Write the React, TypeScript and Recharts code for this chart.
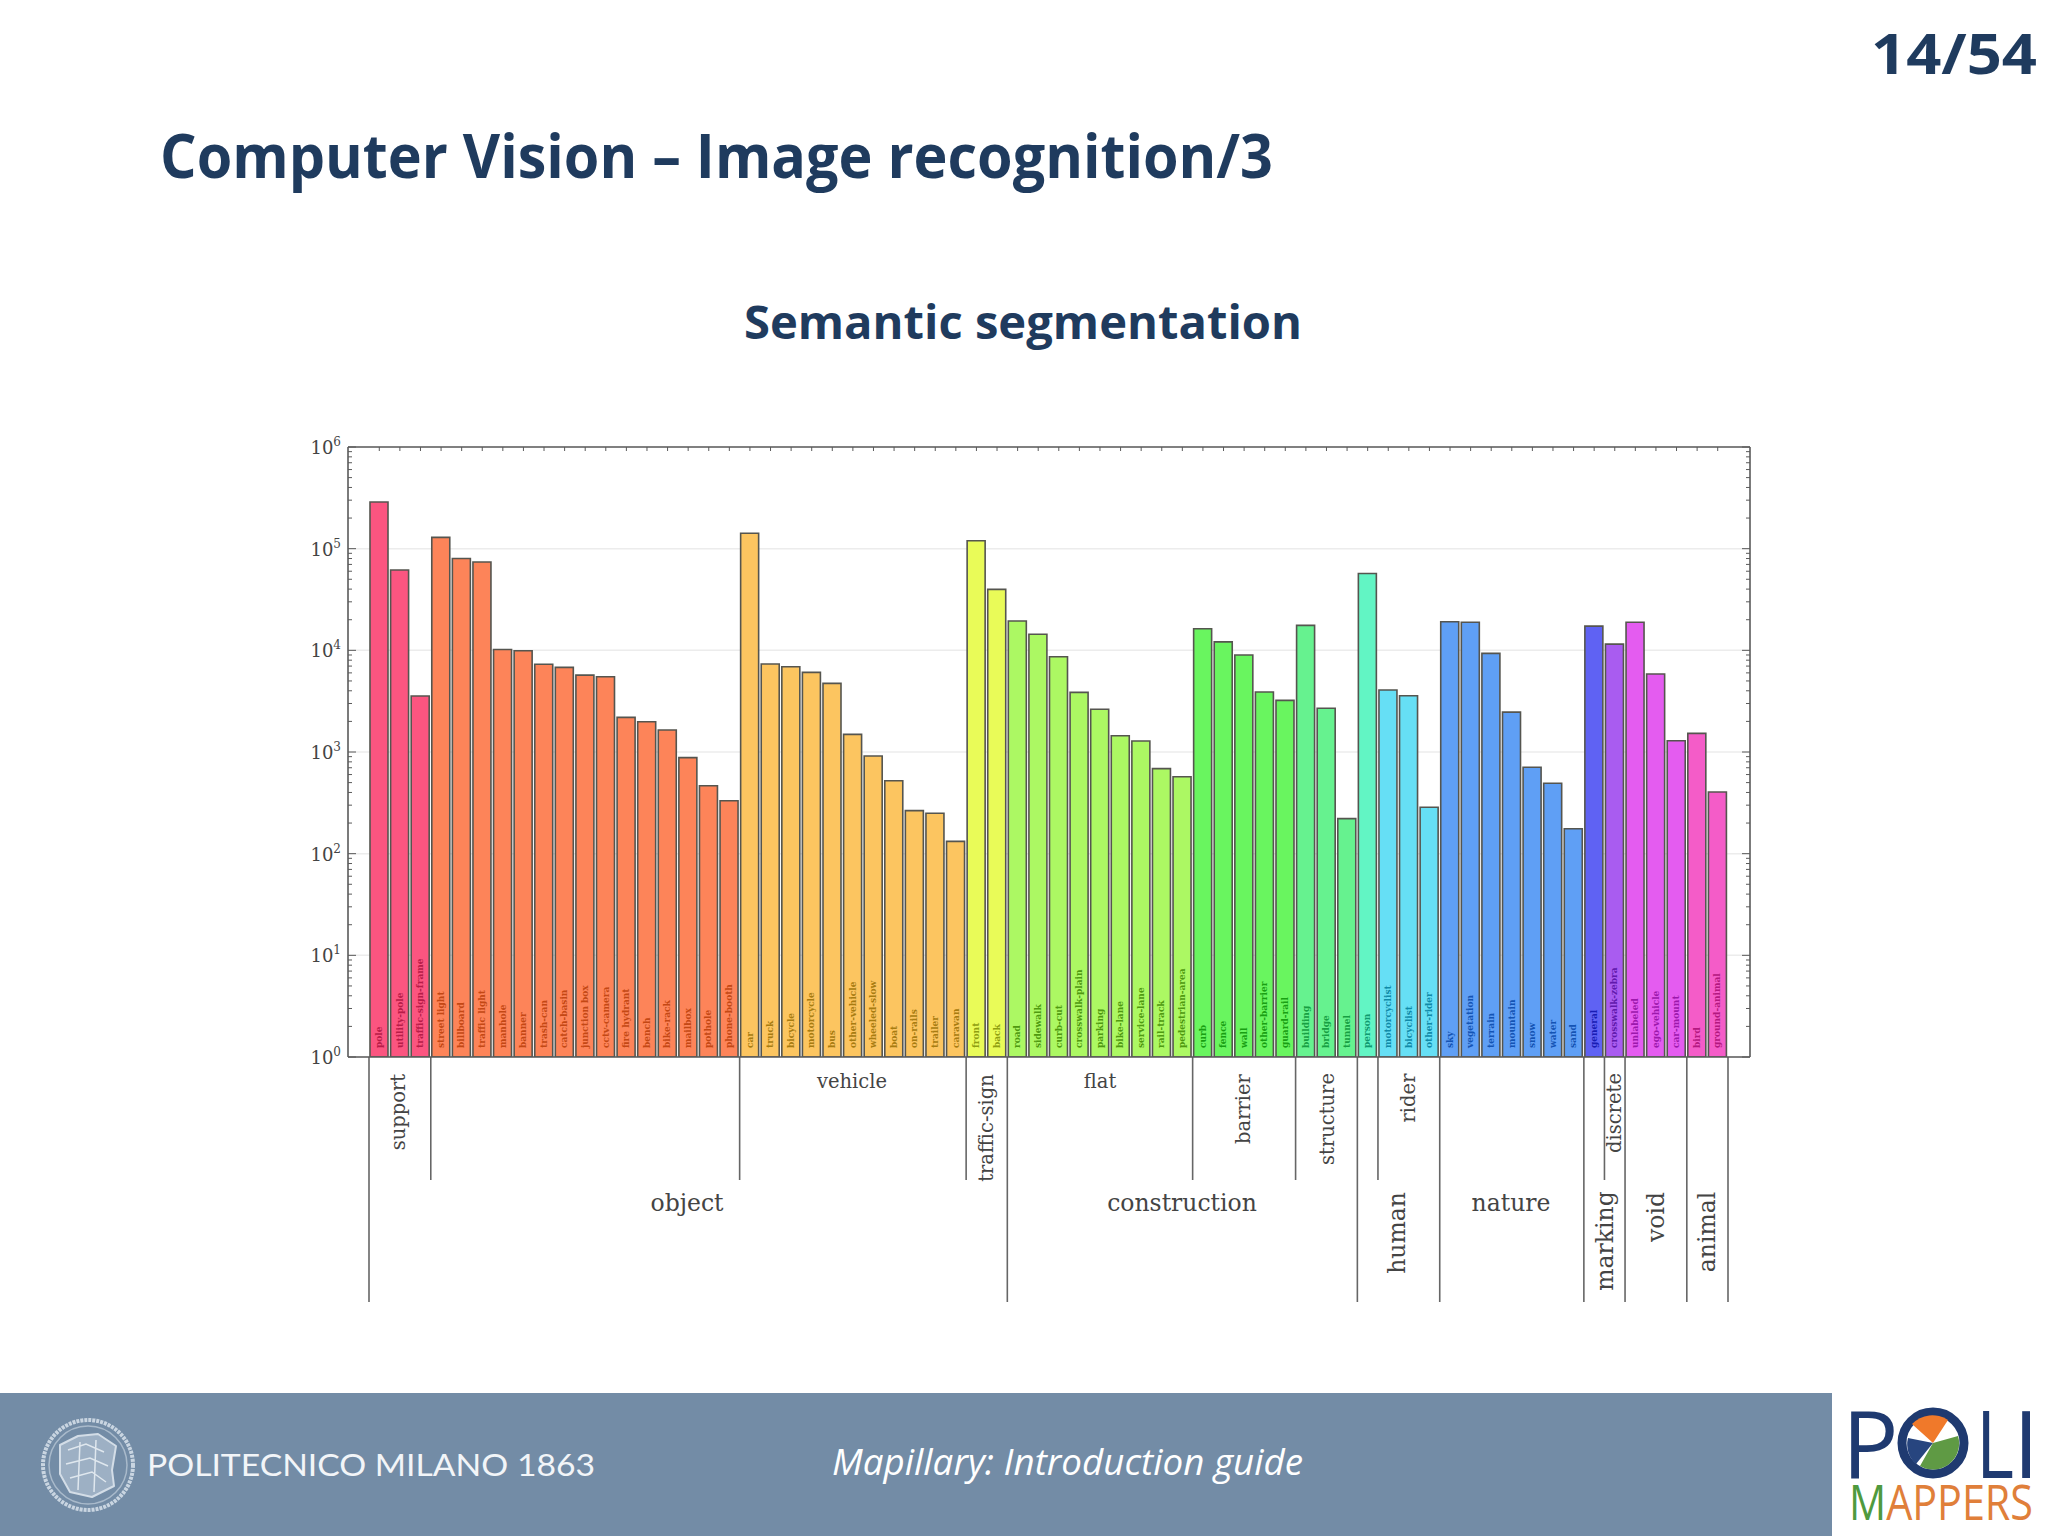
import { Bar, BarChart, CartesianGrid, Cell, LabelList, ReferenceLine, XAxis, YAxis } from "recharts";

const categories = [
  "pole", "utility-pole", "traffic-sign-frame",
  "street light", "billboard", "traffic light", "manhole", "banner", "trash-can", "catch-basin", "junction box",
  "cctv-camera", "fire hydrant", "bench", "bike-rack", "mailbox", "pothole", "phone-booth",
  "car", "truck", "bicycle", "motorcycle", "bus", "other-vehicle", "wheeled-slow", "boat", "on-rails", "trailer", "caravan",
  "front", "back",
  "road", "sidewalk", "curb-cut", "crosswalk-plain", "parking", "bike-lane", "service-lane", "rail-track", "pedestrian-area",
  "curb", "fence", "wall", "other-barrier", "guard-rail",
  "building", "bridge", "tunnel",
  "person",
  "motorcyclist", "bicyclist", "other-rider",
  "sky", "vegetation", "terrain", "mountain", "snow", "water", "sand",
  "general",
  "crosswalk-zebra",
  "unlabeled", "ego-vehicle", "car-mount",
  "bird", "ground-animal",
];

const counts = [
  288000, 61700, 3550,
  129000, 80000, 74000, 10200, 9900, 7300, 6800, 5700, 5500, 2190, 1985, 1645, 880, 466, 332,
  141600, 7340, 6900, 6070, 4730, 1490, 913, 522, 265, 250, 132,
  119700, 39800,
  19400, 14400, 8650, 3860, 2630, 1445, 1282, 686, 571,
  16300, 12100, 9000, 3890, 3220,
  17600, 2690, 221,
  57000,
  4070, 3580, 286,
  19100, 18900, 9330, 2470, 707, 492, 176,
  17300,
  11500,
  18900, 5850, 1292,
  1525, 404,
];

// bars per colour run, same order as categories
const runLengths = [3, 15, 11, 2, 9, 5, 3, 1, 3, 7, 1, 1, 3, 2];
const runFills = ["#fb5580", "#fd8459", "#fcc560", "#e9fb58", "#acf863", "#69f55f", "#66f28f", "#62f5c4", "#66dff5", "#5f9ff5", "#5f62f3", "#a95cf0", "#e45cf0", "#f45cc8"];
const runInk = ["#b81c48", "#c44814", "#a87c10", "#909f10", "#4f9a10", "#189f12", "#169f42", "#109a70", "#108aa8", "#1454b4", "#181cb4", "#6018ac", "#9c18ac", "#b41880"];

const yTicks = [
  1, 2, 3, 4, 5, 6, 7, 8, 9,
  10, 20, 30, 40, 50, 60, 70, 80, 90,
  100, 200, 300, 400, 500, 600, 700, 800, 900,
  1000, 2000, 3000, 4000, 5000, 6000, 7000, 8000, 9000,
  10000, 20000, 30000, 40000, 50000, 60000, 70000, 80000, 90000,
  100000, 200000, 300000, 400000, 500000, 600000, 700000, 800000, 900000,
  1000000,
];
const decades = [1, 10, 100, 1000, 10000, 100000, 1000000];

// group separators under the axis: the bar they sit against
const longSeparators = ["pole", "road", "person", "sky", "general", "unlabeled", "bird"];
const shortSeparators = ["street light", "car", "front", "curb", "building", "motorcyclist", "crosswalk-zebra"];

// first row of group names under the axis is set smaller than the second
const nearFlatLabels = [
  { text: "vehicle", x: 852, y: 1081 },
  { text: "flat", x: 1100, y: 1081 },
];
const farFlatLabels = [
  { text: "object", x: 687, y: 1203 },
  { text: "construction", x: 1182, y: 1203 },
  { text: "nature", x: 1511, y: 1203 },
];
const nearUpLabels = [
  { text: "support", x: 398, y: 1112 },
  { text: "traffic-sign", x: 986, y: 1128 },
  { text: "barrier", x: 1243, y: 1109 },
  { text: "structure", x: 1327, y: 1119 },
  { text: "rider", x: 1408, y: 1098 },
  { text: "discrete", x: 1614, y: 1113 },
];
const farUpLabels = [
  { text: "human", x: 1397, y: 1233 },
  { text: "marking", x: 1605, y: 1241 },
  { text: "void", x: 1656, y: 1217 },
  { text: "animal", x: 1707, y: 1232 },
];

const runIndex = runLengths.flatMap((n, run) => Array(n).fill(run));
const chartData = categories.map((name, i) => ({ name, count: counts[i], run: runIndex[i] }));
const inkByName = Object.fromEntries(chartData.map((d) => [d.name, runInk[d.run]]));

const SERIF = "'DejaVu Serif', serif";
const NAVY = "#1f3b5e";
const FRAME = "#5a5a5a";
const AXIS_BOTTOM = 1057;
const SHORT_END = 1180;
const LONG_END = 1302;

function LeftTick({ x, y, payload }: any) {
  const major = decades.includes(payload.value);
  const power = Math.round(Math.log10(payload.value));
  return (
    <g>
      <line x1={x} x2={x + (major ? 8 : 4)} y1={y} y2={y} stroke={FRAME} strokeWidth={1} />
      {major && (
        <text x={x - 7} y={y + 7} textAnchor="end" fontFamily={SERIF} fontSize={18} fill="#444">
          10<tspan dy={-8} fontSize={12}>{power}</tspan>
        </text>
      )}
    </g>
  );
}

function RightTick({ x, y, payload }: any) {
  const major = decades.includes(payload.value);
  return <line x1={x} x2={x - (major ? 8 : 4)} y1={y} y2={y} stroke={FRAME} strokeWidth={1} />;
}

function TopTick({ x, y }: any) {
  return <line x1={x} x2={x} y1={y} y2={y + 4} stroke={FRAME} strokeWidth={1} />;
}

function BarName({ x, y, width, height, value }: any) {
  const px = x + width / 2 + 3;
  const py = y + height - 9;
  return (
    <text
      x={px}
      y={py}
      transform={`rotate(-90 ${px} ${py})`}
      fontFamily={SERIF}
      fontWeight={700}
      fontSize={9}
      fill={inkByName[value]}
    >
      {value}
    </text>
  );
}

const separator = (end: number) => (props: any) => (
  <line x1={props.x1} x2={props.x1} y1={AXIS_BOTTOM} y2={end} stroke="#666" strokeWidth={1.6} />
);

function Crest() {
  return (
    <g>
      <circle cx={88} cy={1465} r={45} fill="none" stroke="#c9d5e1" strokeWidth={4} strokeDasharray="3 1" />
      <circle cx={88} cy={1465} r={39} fill="none" stroke="#a9bacb" strokeWidth={1.5} />
      <path
        d="M60 1445 L78 1436 L98 1434 L116 1446 L112 1470 L114 1486 L92 1497 L70 1492 L60 1474 Z"
        fill="#9db0c4"
        stroke="#d3dde7"
        strokeWidth={2}
        strokeLinejoin="round"
      />
      <path
        d="M68 1450 L86 1444 L104 1452 M66 1464 L90 1458 L108 1466 M70 1478 L92 1472 L106 1482 M80 1442 L78 1490 M96 1440 L94 1492"
        fill="none"
        stroke="#dfe7ee"
        strokeWidth={1.5}
      />
    </g>
  );
}

function Logo() {
  return (
    <g>
      <text x={1842} y={1478} fontFamily="'Open Sans'" fontSize={94} fill="#1f3a70">P</text>
      <circle cx={1933} cy={1443} r={31} fill="#fff" stroke="#1f3a70" strokeWidth={9} />
      <path d="M1933 1443 L1912 1424 A28 28 0 0 1 1948 1420 Z" fill="#f0792a" />
      <path d="M1933 1443 L1908 1438 A26 26 0 0 0 1916 1464 Z" fill="#27457f" />
      <path d="M1933 1443 L1958 1436 A26 26 0 0 1 1920 1466 Z" fill="#5f9a44" />
      <text x={1976} y={1478} fontFamily="'Open Sans'" fontSize={94} fill="#1f3a70" textLength={38} lengthAdjust="spacingAndGlyphs">L</text>
      <text x={2013} y={1478} fontFamily="'Open Sans'" fontSize={94} fill="#1f3a70">I</text>
      <text x={1849} y={1520} fontFamily="'Open Sans'" fontSize={50} textLength={184} lengthAdjust="spacingAndGlyphs">
        <tspan fill="#4f9a3e">M</tspan>
        <tspan fill="#e07f3a">APPERS</tspan>
      </text>
    </g>
  );
}

export default function App() {
  return (
    <div style={{ position: "absolute", left: 0, top: 0, width: 2048, height: 1536, background: "#fff", overflow: "hidden" }}>
      <BarChart
        width={2048}
        height={1536}
        data={chartData}
        margin={{ top: 446, right: 297, bottom: 478, left: 347 }}
        barCategoryGap={0}
        style={{ position: "absolute", left: 0, top: 0 }}
      >
        <CartesianGrid vertical={false} horizontalValues={decades} stroke="#ececec" strokeWidth={1.5} />
        <XAxis
          dataKey="name"
          type="category"
          padding={{ left: 21, right: 22 }}
          height={1}
          interval={0}
          tick={false}
          tickLine={false}
          axisLine={{ stroke: FRAME, strokeWidth: 1.6 }}
        />
        <XAxis
          xAxisId="top"
          orientation="top"
          dataKey="name"
          type="category"
          padding={{ left: 21, right: 22 }}
          height={1}
          interval={0}
          tickSize={0}
          tickMargin={0}
          tickLine={false}
          tick={<TopTick />}
          axisLine={{ stroke: FRAME, strokeWidth: 1.6 }}
        />
        <YAxis
          scale="log"
          domain={[1, 1000000]}
          ticks={yTicks}
          interval={0}
          width={1}
          tickSize={0}
          tickMargin={0}
          tickLine={false}
          tick={<LeftTick />}
          allowDataOverflow
          axisLine={{ stroke: FRAME, strokeWidth: 1.6 }}
        />
        <YAxis
          yAxisId="right"
          orientation="right"
          scale="log"
          domain={[1, 1000000]}
          ticks={yTicks}
          interval={0}
          width={1}
          tickSize={0}
          tickMargin={0}
          tickLine={false}
          tick={<RightTick />}
          allowDataOverflow
          axisLine={{ stroke: FRAME, strokeWidth: 1.6 }}
        />
        <Bar dataKey="count" barSize={18} stroke="#55554f" strokeWidth={1.6} isAnimationActive={false}>
          {chartData.map((d) => (
            <Cell key={d.name} fill={runFills[d.run]} />
          ))}
          <LabelList dataKey="name" content={<BarName />} />
        </Bar>
        {longSeparators.map((name) => (
          <ReferenceLine key={name} x={name} position="start" ifOverflow="visible" shape={separator(LONG_END)} />
        ))}
        {shortSeparators.map((name) => (
          <ReferenceLine key={name} x={name} position="start" ifOverflow="visible" shape={separator(SHORT_END)} />
        ))}
        <ReferenceLine x="ground-animal" position="end" ifOverflow="visible" shape={separator(LONG_END)} />
      </BarChart>

      <svg width={2048} height={1536} style={{ position: "absolute", left: 0, top: 0, pointerEvents: "none" }}>
        <text x={1871} y={74} fontFamily="'Open Sans'" fontWeight={700} fontSize={56} fill={NAVY} textLength={166} lengthAdjust="spacingAndGlyphs">14/54</text>
        <text x={160} y={178} fontFamily="'Open Sans'" fontWeight={700} fontSize={60} fill={NAVY} textLength={1113} lengthAdjust="spacingAndGlyphs">Computer Vision – Image recognition/3</text>
        <text x={744} y={339} fontFamily="'Open Sans'" fontWeight={700} fontSize={47} fill={NAVY} textLength={558} lengthAdjust="spacingAndGlyphs">Semantic segmentation</text>

        {nearFlatLabels.map((l) => (
          <text key={l.text} x={l.x} y={l.y + 7} textAnchor="middle" fontFamily={SERIF} fontSize={19.5} fill="#444">{l.text}</text>
        ))}
        {farFlatLabels.map((l) => (
          <text key={l.text} x={l.x} y={l.y + 8} textAnchor="middle" fontFamily={SERIF} fontSize={23.5} fill="#444">{l.text}</text>
        ))}
        {nearUpLabels.map((l) => (
          <text key={l.text} x={l.x} y={l.y} textAnchor="middle" dominantBaseline="central" transform={`rotate(-90 ${l.x} ${l.y})`} fontFamily={SERIF} fontSize={19.5} fill="#444">{l.text}</text>
        ))}
        {farUpLabels.map((l) => (
          <text key={l.text} x={l.x} y={l.y} textAnchor="middle" dominantBaseline="central" transform={`rotate(-90 ${l.x} ${l.y})`} fontFamily={SERIF} fontSize={23.5} fill="#444">{l.text}</text>
        ))}

        <rect x={0} y={1393} width={1832} height={143} fill="#738ca6" />
        <Crest />
        <text x={147} y={1476} fontFamily="Lato" fontSize={31} fill="#f2f5f8" textLength={448} lengthAdjust="spacingAndGlyphs">POLITECNICO MILANO 1863</text>
        <text x={832} y={1475} fontFamily="'Open Sans'" fontStyle="italic" fontSize={36} fill="#fff" textLength={471} lengthAdjust="spacingAndGlyphs">Mapillary: Introduction guide</text>
        <Logo />
      </svg>
    </div>
  );
}
